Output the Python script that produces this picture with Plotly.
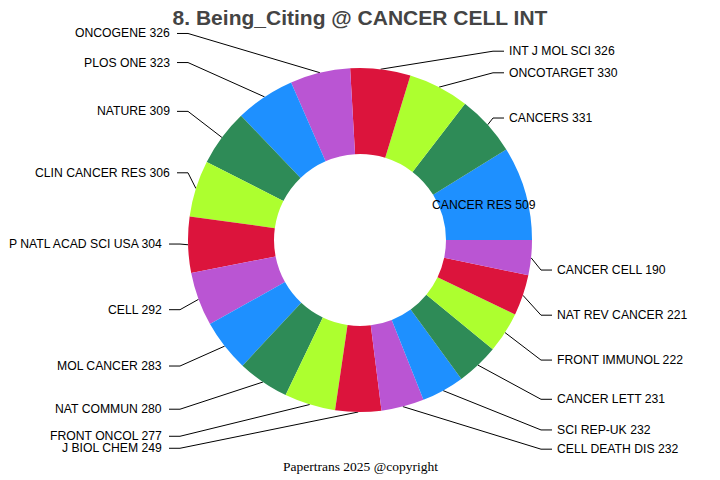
import math
import plotly.graph_objects as go

# ---------------- data ----------------
journals = ["CANCER RES", "CANCERS", "ONCOTARGET", "INT J MOL SCI", "ONCOGENE",
            "PLOS ONE", "NATURE", "CLIN CANCER RES", "P NATL ACAD SCI USA", "CELL",
            "MOL CANCER", "NAT COMMUN", "FRONT ONCOL", "J BIOL CHEM", "CELL DEATH DIS",
            "SCI REP-UK", "CANCER LETT", "FRONT IMMUNOL", "NAT REV CANCER", "CANCER CELL"]
counts = [509, 331, 330, 326, 326, 323, 309, 306, 304, 292,
          283, 280, 277, 249, 232, 232, 231, 222, 221, 190]
palette = ["#1E90FF", "#2E8B57", "#ADFF2F", "#DC143C", "#BA55D3"]
title_text = "8. Being_Citing @ CANCER CELL INT"
footer_text = "Papertrans 2025 @copyright"

# ---------------- layout constants ----------------
W, H = 720, 480
CX, CY, R = 360, 240, 172
HOLE = 0.5
LABEL_R = 207
ELBOW_X = {"RU": 493, "RL": 541, "LU": 188, "LL": 180}
Y_OFF = {"RU": 16.7, "RL": 8.7, "LU": -5.2, "LL": -1.7}
MIN_GAP = 12
SEG = 11
TXT_GAP = {"R": 3, "L": 5}
LABEL_FONT = dict(family="Liberation Sans, Arial", size=12.2, color="black")

total = sum(counts)
colors = [palette[i % len(palette)] for i in range(len(counts))]
first_angle = 360.0 * counts[0] / total

fig = go.Figure()
fig.add_trace(go.Pie(
    labels=journals, values=counts, sort=False, direction="counterclockwise",
    rotation=90 - first_angle, hole=HOLE, textinfo="none",
    marker=dict(colors=colors, line=dict(width=0)),
    showlegend=False, hoverinfo="label+value",
    domain=dict(x=[(CX - R) / W, (CX + R) / W], y=[(H - CY - R) / H, (H - CY + R) / H]),
))

# mid angles (degrees, counterclockwise from 3 o'clock)
mids = []
cum = 0.0
for v in counts:
    a = 360.0 * v / total
    mids.append(cum + a / 2)
    cum += a

annotations = []
# inside label for first slice
th = math.radians(mids[0])
rin = R * (1 + HOLE) / 2
annotations.append(dict(x=CX + rin * math.cos(th), y=CY - rin * math.sin(th),
                        xref="x", yref="y", text=f"{journals[0]} {counts[0]}",
                        showarrow=False, xanchor="center", yanchor="middle",
                        font=LABEL_FONT))

items = []
for i in range(1, len(counts)):
    th = math.radians(mids[i])
    c, s = math.cos(th), math.sin(th)
    side = "R" if c > 0 else "L"
    q = side + ("U" if s > 0 else "L")
    y = CY + Y_OFF[q] - LABEL_R * s
    items.append(dict(i=i, side=side, q=q, c=c, s=s, y=y))

for side in ("R", "L"):
    grp = sorted([it for it in items if it["side"] == side], key=lambda d: d["y"])
    prev = None
    for it in grp:
        if prev is not None and it["y"] < prev + MIN_GAP:
            it["y"] = prev + MIN_GAP
        prev = it["y"]

lx, ly = [], []
for it in items:
    i = it["i"]
    ex = ELBOW_X[it["q"]]
    sgn = 1 if it["side"] == "R" else -1
    p0x, p0y = CX + R * it["c"], CY - R * it["s"]
    lx += [p0x, ex, ex + sgn * SEG, None]
    ly += [p0y, it["y"], it["y"], None]
    annotations.append(dict(x=ex + sgn * (SEG + TXT_GAP[it["side"]]), y=it["y"], xref="x", yref="y",
                            text=f"{journals[i]} {counts[i]}", showarrow=False,
                            xanchor="left" if sgn > 0 else "right", yanchor="middle",
                            font=LABEL_FONT))

fig.add_trace(go.Scatter(x=lx, y=ly, mode="lines", line=dict(color="black", width=1),
                         hoverinfo="skip", showlegend=False))

annotations.append(dict(x=0.5, y=466, xref="paper", yref="y", text=footer_text,
                        showarrow=False, xanchor="center", yanchor="middle",
                        font=dict(family="Liberation Serif, Times New Roman", size=13.5, color="black")))

fig.update_layout(
    width=W, height=H, margin=dict(l=0, r=0, t=0, b=0),
    paper_bgcolor="white", plot_bgcolor="white",
    title=dict(text=f"<b>{title_text}</b>", x=0.5, xanchor="center", y=1 - 18 / H, yanchor="middle",
               font=dict(family="Liberation Sans, Arial", size=21, color="#444444")),
    xaxis=dict(range=[0, W], visible=False, fixedrange=True),
    yaxis=dict(range=[H, 0], visible=False, fixedrange=True),
    annotations=annotations,
)

fig.write_html("out.html")
